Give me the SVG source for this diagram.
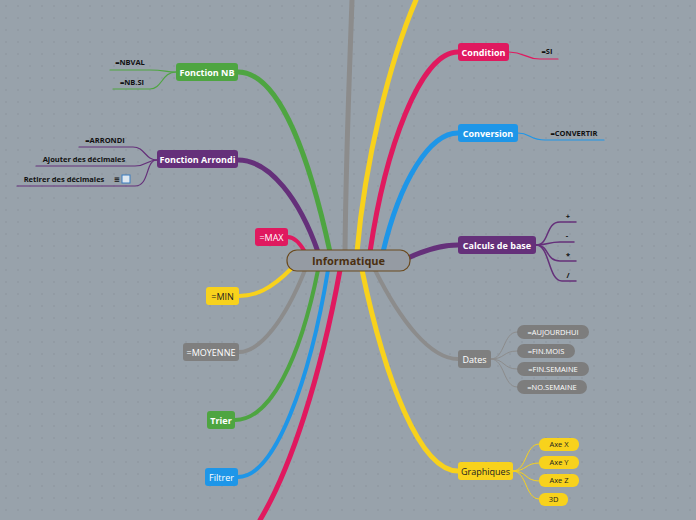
<svg xmlns="http://www.w3.org/2000/svg" width="696" height="520" viewBox="0 0 696 520">
<defs>
<pattern id="dots" width="12" height="12" patternUnits="userSpaceOnUse"><rect width="12" height="12" fill="#98a2ab"/><circle cx="6" cy="6" r="0.8" fill="#8a939c"/></pattern>
<style>
text{font-family:"Open Sans","DejaVu Sans",sans-serif;}
.b{font-weight:bold;font-size:9px;fill:#fff;text-anchor:middle}
.n{font-size:9px;fill:#fff;text-anchor:middle}
.nd{font-size:9px;fill:#222;text-anchor:middle}
.s{font-size:7.5px;font-weight:bold;fill:#111;text-anchor:middle}
.p{font-size:7.5px;fill:#fff;text-anchor:middle}
.py{font-size:7.5px;fill:#222;text-anchor:middle}
.c path{fill:none;stroke-linecap:round}
</style>
</defs>
<rect width="696" height="520" fill="url(#dots)"/>
<g id="connectors" class="c">
<path d="M345 252 C346 150 350 60 352 0" stroke="#8c8c8c" stroke-width="5"/>
<path d="M357 252 C365 160 390 60 416 0" stroke="#f8d21c" stroke-width="5"/>
<path d="M370 252 C385 150 420 52 458 52" stroke="#e0195f" stroke-width="5"/>
<path d="M383 252 C400 180 430 133 458 133" stroke="#1e96e8" stroke-width="5"/>
<path d="M408 258 C425 250 440 245 458 245" stroke="#65307a" stroke-width="5"/>
<path d="M375 270 C400 320 430 359 458 359" stroke="#8c8c8c" stroke-width="4"/>
<path d="M362 270 C385 380 420 471 458 471" stroke="#f8d21c" stroke-width="5"/>
<path d="M330 252 C310 160 280 72 238 72" stroke="#4ea541" stroke-width="5"/>
<path d="M318 252 C300 200 270 160 238 160" stroke="#65307a" stroke-width="5"/>
<path d="M305 252 C298 240 293 237 288 237" stroke="#e0195f" stroke-width="4"/>
<path d="M292 268 C270 290 255 296 239 296" stroke="#f8d21c" stroke-width="4"/>
<path d="M305 270 C285 320 260 352 239 352" stroke="#8c8c8c" stroke-width="4"/>
<path d="M318 270 C300 360 270 420 235 420" stroke="#4ea541" stroke-width="4"/>
<path d="M328 270 C310 380 275 477 238 477" stroke="#1e96e8" stroke-width="4"/>
<path d="M340 270 C320 380 290 470 260 520" stroke="#e0195f" stroke-width="5"/>
<!-- children -->
<path d="M509 52 C525 52 525 59 540 59 L558 59" stroke="#e0195f" stroke-width="1.2"/>
<path d="M518 133 C530 133 530 140 545 140 L604 140" stroke="#1e96e8" stroke-width="1.2"/>
<g stroke="#65307a" stroke-width="1.5">
<path d="M536 245 C550 245 545 222 560 222 L576 222"/>
<path d="M536 245 C548 245 548 242 560 242 L574 242"/>
<path d="M536 245 C550 245 545 261 560 261 L576 261"/>
<path d="M536 245 C550 245 548 281 562 281 L576 281"/>
</g>
<g stroke="#8c8c8c" stroke-width="1">
<path d="M491 359 C505 359 503 332 517 332"/>
<path d="M491 359 C505 359 503 351 517 351"/>
<path d="M491 359 C505 359 503 369 517 369"/>
<path d="M491 359 C505 359 503 387 517 387"/>
</g>
<g stroke="#f8d21c" stroke-width="1">
<path d="M513 471 C527 471 525 444 539 444"/>
<path d="M513 471 C527 471 525 463 539 463"/>
<path d="M513 471 C527 471 525 481 539 481"/>
<path d="M513 471 C527 471 525 499 539 499"/>
</g>
<g stroke="#4ea541" stroke-width="1.2">
<path d="M176 72 C165 72 165 70 150 70 L110 70"/>
<path d="M176 72 C162 72 162 89 150 89 L113 89"/>
</g>
<g stroke="#65307a" stroke-width="1.2">
<path d="M157 160 C145 160 145 147 133 147 L79 147"/>
<path d="M157 160 C147 160 147 166 135 166 L36 166"/>
<path d="M157 160 C145 160 150 186 135 186 L17 186"/>
</g>
</g>
<g id="center"><rect x="287" y="250" width="123" height="21" rx="10" fill="#959ba3" stroke="#6b4a1e" stroke-width="1.2"/><text x="348.5" y="265" style="font-weight:bold;font-size:11px;fill:#4a2f10;text-anchor:middle">Informatique</text></g>
<g id="condition"><rect x="458" y="43" width="51" height="18" rx="3" fill="#e0195f"/><text class="b" x="483.5" y="55.5">Condition</text></g>
<g id="si"><text class="s" x="547" y="54">=SI</text></g>
<g id="conversion"><rect x="458" y="124" width="60" height="18" rx="3" fill="#1e96e8"/><text class="b" x="488" y="136.5">Conversion</text></g>
<g id="convertir"><text class="s" x="574" y="136">=CONVERTIR</text></g>
<g id="calculs"><rect x="458" y="236" width="78" height="18" rx="3" fill="#65307a"/><text class="b" x="497" y="248.5">Calculs de base</text></g>
<g id="ops"><text class="s" x="568" y="219">+</text><text class="s" x="567" y="238">-</text><text class="s" x="568" y="258">*</text><text class="s" x="568" y="278">/</text></g>
<g id="dates"><rect x="458" y="350" width="33" height="18" rx="3" fill="#7f7f7f"/><text class="n" x="474.5" y="362.5">Dates</text></g>
<g id="aujourdhui"><rect x="517" y="325" width="72" height="14" rx="7" fill="#7d7d7d"/><text class="p" x="553" y="334.5">=AUJOURDHUI</text></g>
<g id="finmois"><rect x="517" y="344" width="58" height="14" rx="7" fill="#7d7d7d"/><text class="p" x="546" y="353.5">=FIN.MOIS</text></g>
<g id="finsemaine"><rect x="517" y="362" width="72" height="14" rx="7" fill="#7d7d7d"/><text class="p" x="553" y="371.5">=FIN.SEMAINE</text></g>
<g id="nosemaine"><rect x="517" y="380" width="70" height="14" rx="7" fill="#7d7d7d"/><text class="p" x="552" y="389.5">=NO.SEMAINE</text></g>
<g id="graphiques"><rect x="458" y="462" width="55" height="18" rx="3" fill="#f8d21c"/><text class="nd" x="485.5" y="474.5">Graphiques</text></g>
<g id="axex"><rect x="539" y="438" width="40" height="13" rx="6" fill="#f8d21c"/><text class="py" x="559" y="447">Axe X</text></g>
<g id="axey"><rect x="539" y="456" width="40" height="13" rx="6" fill="#f8d21c"/><text class="py" x="559" y="465">Axe Y</text></g>
<g id="axez"><rect x="539" y="474" width="40" height="13" rx="6" fill="#f8d21c"/><text class="py" x="559" y="483">Axe Z</text></g>
<g id="d3"><rect x="539" y="493" width="29" height="13" rx="6" fill="#f8d21c"/><text class="py" x="553.5" y="502">3D</text></g>
<g id="fonctionnb"><rect x="176" y="63" width="62" height="18" rx="3" fill="#4ea541"/><text class="b" x="207" y="75.5">Fonction NB</text></g>
<g id="nbval"><text class="s" x="130" y="65">=NBVAL</text></g>
<g id="nbsi"><text class="s" x="132" y="85">=NB.SI</text></g>
<g id="arrondi"><rect x="157" y="150" width="81" height="18" rx="3" fill="#65307a"/><text class="b" x="197.5" y="162.5">Fonction Arrondi</text></g>
<g id="arrondi1"><text class="s" x="105" y="143">=ARRONDI</text></g>
<g id="ajouter"><text class="s" x="84" y="162">Ajouter des décimales</text></g>
<g id="retirer"><text class="s" x="64" y="182">Retirer des décimales</text><text class="s" x="117" y="182">≡</text><rect x="122" y="175" width="8" height="8" fill="#dde7f0" stroke="#3a7cc0" stroke-width="1"/></g>
<g id="max"><rect x="255" y="228" width="33" height="18" rx="3" fill="#e0195f"/><text class="n" x="271.5" y="240.5">=MAX</text></g>
<g id="min"><rect x="206" y="287" width="33" height="18" rx="3" fill="#f8d21c"/><text class="nd" x="222.5" y="299.5">=MIN</text></g>
<g id="moyenne"><rect x="183" y="343" width="56" height="18" rx="3" fill="#7f7f7f"/><text class="n" x="211" y="355.5">=MOYENNE</text></g>
<g id="trier"><rect x="207" y="411" width="28" height="18" rx="3" fill="#4ea541"/><text class="b" x="221" y="423.5">Trier</text></g>
<g id="filtrer"><rect x="205" y="468" width="33" height="18" rx="3" fill="#1e96e8"/><text class="n" x="221.5" y="480.5">Filtrer</text></g>
</svg>
